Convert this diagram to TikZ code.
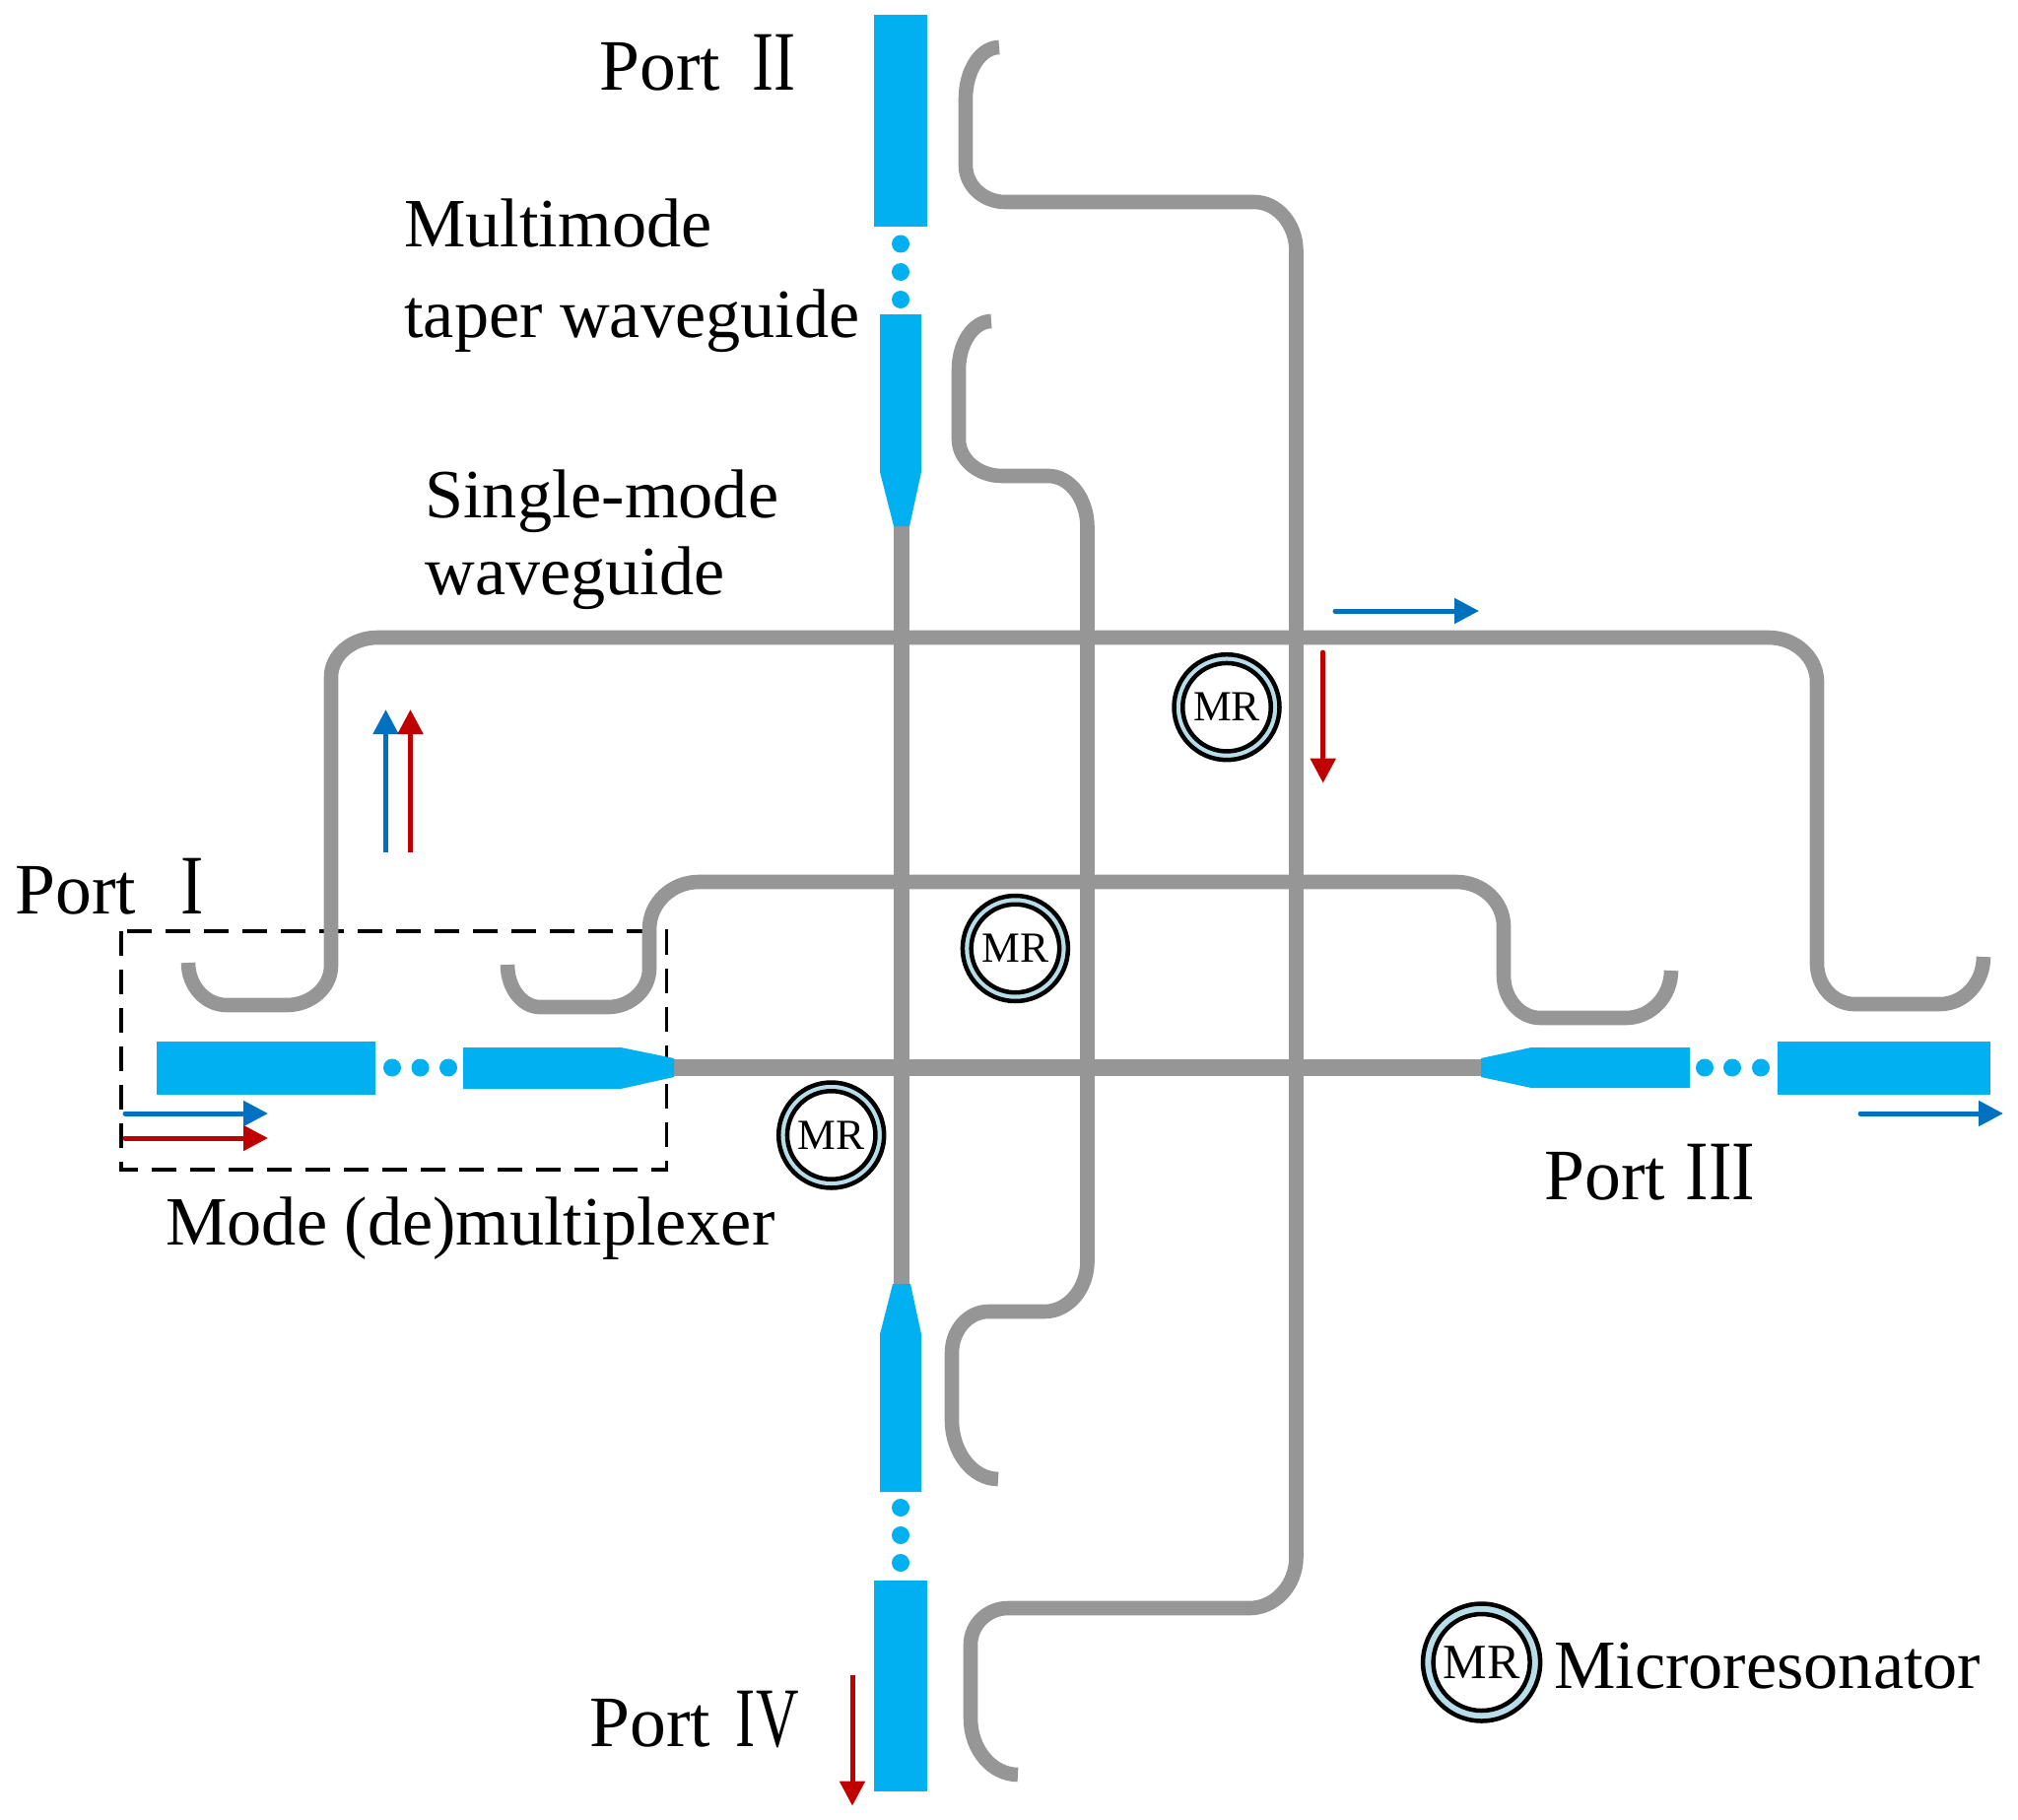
\documentclass[tikz,border=0pt]{standalone}
\usepackage{fontspec}
\usepackage{graphicx}
\setmainfont{Liberation Serif}
\usetikzlibrary{arrows.meta,calc}
\definecolor{wgrey}{HTML}{969696}
\definecolor{wcyan}{HTML}{00B0F0}
\definecolor{ablue}{HTML}{0070C0}
\definecolor{ared}{HTML}{C00000}
\definecolor{ringblue}{HTML}{B7DEE8}
% line to P, then a rounded bend towards corner C, ending at Q
\newcommand\wgbend[6]{-- (#1,#2) .. controls ($(#1,#2)!0.55!(#3,#4)$) and ($(#5,#6)!0.55!(#3,#4)$) .. (#5,#6)}
\newcommand\portnum[2]{\scalebox{#1}[1.17]{#2}}
\tikzset{
  wg/.style={draw=wgrey,line width=7.3pt},
  core/.style={draw=wgrey,line width=8.3pt},
  mm/.style={fill=wcyan,draw=none},
  dotc/.style={fill=wcyan,draw=none},
  sig/.style={line width=2.5pt,-{Triangle[length=12.5pt,width=12.5pt]}},
  sigr/.style={sig,line cap=round},
  lab/.style={anchor=base west,inner sep=0pt,font=\fontsize{35.1}{40}\selectfont},
  plab/.style={anchor=base west,inner sep=0pt,font=\fontsize{36.75}{40}\selectfont},
  ringo/.style={circle,draw=black,line width=2.25pt,fill=ringblue,minimum size=#1,inner sep=0pt,outer sep=0pt},
  ringi/.style={circle,draw=black,line width=2.25pt,fill=white,minimum size=#1,inner sep=0pt,outer sep=0pt,font=\fontsize{21.8}{24}\selectfont},
}
\begin{document}
\begin{tikzpicture}[x=0.5pt,y=-0.5pt]
\useasboundingbox (0,0) rectangle (2048,1846);
% dashed box
\draw[line width=1.7pt,dash pattern=on 12.5pt off 7pt] (123,945) rectangle (676.5,1187);
% waveguides
\draw[wg] (1014,48) \wgbend{1014}{48}{980}{48}{980}{100} \wgbend{980}{168}{980}{205}{1020}{205}
  \wgbend{1273}{205}{1315.5}{205}{1315.5}{255} \wgbend{1315.5}{1580}{1315.5}{1632}{1268}{1632}
  \wgbend{1023}{1632}{985}{1632}{985}{1669} \wgbend{985}{1744}{985}{1801}{1033}{1801};
\draw[wg] (1006,326) \wgbend{1006}{326}{973}{326}{973}{375} \wgbend{973}{446}{973}{483}{1017}{483}
  \wgbend{1064}{483}{1103.5}{483}{1103.5}{535} \wgbend{1103.5}{1280}{1103.5}{1331}{1060}{1331}
  \wgbend{1003}{1331}{966}{1331}{966}{1373} \wgbend{966}{1441}{966}{1501}{1013}{1501};
\draw[wg] (191,977) \wgbend{191}{977}{191}{1020}{230}{1020} \wgbend{291}{1020}{336}{1020}{336}{980}
  \wgbend{336}{687}{336}{647}{383}{647} \wgbend{1795}{647}{1844}{647}{1844}{692}
  \wgbend{1844}{978}{1844}{1019}{1882}{1019} \wgbend{1969}{1019}{2013}{1019}{2013}{971};
\draw[wg] (515,979) \wgbend{515}{979}{515}{1022}{548}{1022} \wgbend{617}{1022}{659}{1022}{659}{983}
  \wgbend{659}{943}{659}{895}{709}{895} \wgbend{1478}{895}{1526}{895}{1526}{940}
  \wgbend{1526}{990}{1526}{1033}{1563}{1033} \wgbend{1650}{1033}{1696}{1033}{1696}{985};
\draw[core] (684,1083.5) -- (1504,1083.5);
\draw[core] (915,534) -- (915,1303);
% multimode sections
\fill[mm] (159,1057) rectangle (381,1111);
\fill[mm] (470,1063) -- (630,1063) -- (684,1074) -- (684,1093) -- (630,1105) -- (470,1105) -- cycle;
\foreach \x in {398,426.5,455} \fill[dotc] (\x,1083.5) circle (4.5pt);
\fill[mm] (1803.5,1057) rectangle (2020,1111);
\fill[mm] (1715,1063) -- (1554,1063) -- (1503,1074) -- (1503,1093) -- (1554,1104) -- (1715,1104) -- cycle;
\foreach \x in {1730,1758,1787} \fill[dotc] (\x,1083.5) circle (4.5pt);
\fill[mm] (887,15) rectangle (941,230);
\fill[mm] (893,319) -- (935,319) -- (935,479) -- (923,534) -- (907,534) -- (893,479) -- cycle;
\foreach \y in {247.5,276,304} \fill[dotc] (914,\y) circle (4.5pt);
\fill[mm] (887,1604) rectangle (941,1818);
\fill[mm] (893,1514) -- (935,1514) -- (935,1354) -- (924,1303) -- (906,1303) -- (893,1354) -- cycle;
\foreach \y in {1530,1558,1586} \fill[dotc] (914,\y) circle (4.5pt);
% signals
\draw[sigr,ablue] (127,1130) -- (272,1130);
\draw[sigr,ared] (127,1155) -- (272,1155);
\draw[sig,ablue] (391.5,865) -- (391.5,720);
\draw[sig,ared] (416.5,865) -- (416.5,720);
\draw[sigr,ablue] (1355,620) -- (1501,620);
\draw[sigr,ared] (1342.7,662) -- (1342.7,794.7);
\draw[sigr,ablue] (1888,1130) -- (2033,1130);
\draw[sig,ared] (865,1699.5) -- (865,1832.6);
% microresonators
\node[ringo=53.5pt] (r1o) at (1245,717.7) {};
\node[ringi=44.75pt] (r1) at (1245,717.7) {MR};
\node[ringo=53.5pt] (r2o) at (1030.4,962.5) {};
\node[ringi=44.75pt] (r2) at (1030.4,962.5) {MR};
\node[ringo=53.5pt] (r3o) at (843.7,1152) {};
\node[ringi=44.75pt] (r3) at (843.7,1152) {MR};
\node[ringo=59.5pt] (r4o) at (1503.6,1687) {};
\node[ringi=49pt,font=\fontsize{25}{28}\selectfont] (r4) at (1503.6,1687) {MR};
% labels
\node[plab] (p1) at (15,927) {Port\hspace{23pt}\portnum{0.95}{I}};
\node[plab] (p2) at (608,92) {Port\hspace{16.5pt}\portnum{0.9}{II}};
\node[plab] (p3) at (1567,1217.7) {Port\hspace{10.5pt}\portnum{0.96}{III}};
\node[plab] (p4) at (598,1772.7) {Port\hspace{13pt}\portnum{0.82}{IV}};
\node[lab] (m1) at (410,250) {Multimode};
\node[lab] (m2) at (410,342) {taper waveguide};
\node[lab] (s1) at (431,525) {Single-mode};
\node[lab] (s2) at (431,603) {waveguide};
\node[lab] (dm) at (168,1263) {Mode (de)multiplexer};
\node[lab] (mr) at (1577,1713) {Microresonator};
\end{tikzpicture}
\end{document}
